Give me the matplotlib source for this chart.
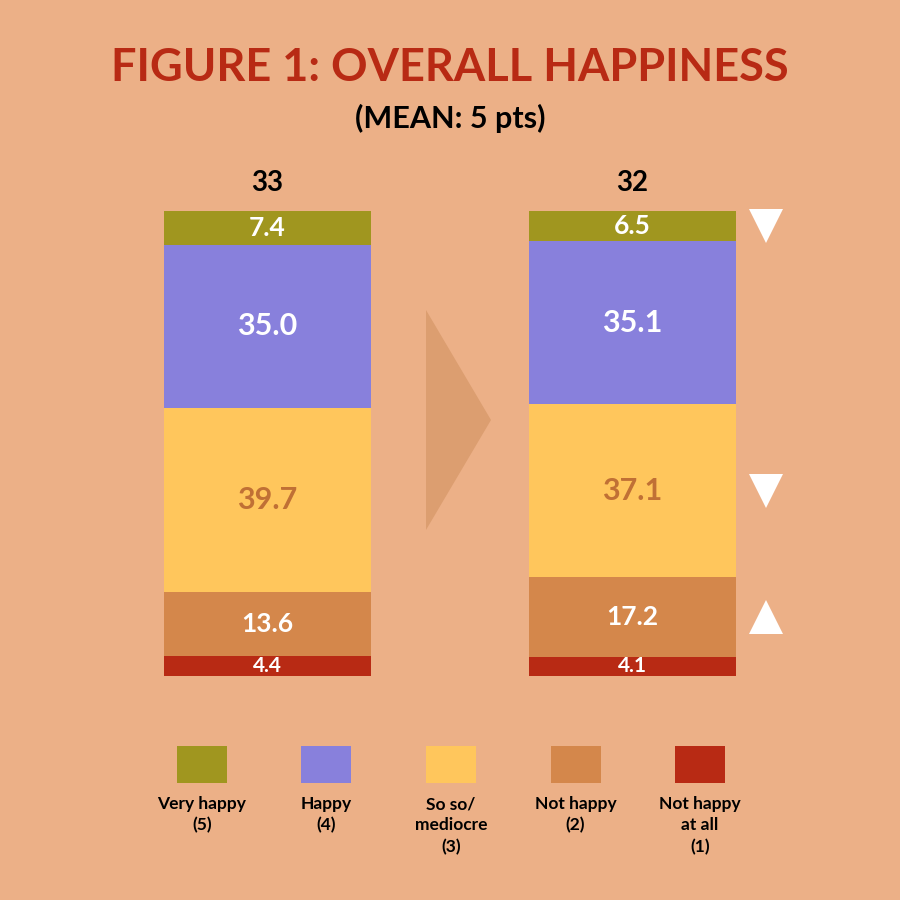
import matplotlib
matplotlib.use('Agg')
import matplotlib.pyplot as plt
from matplotlib.patches import Polygon, Rectangle

plt.rcParams['font.family'] = ['Lato', 'DejaVu Sans']

# data
categories = ['Not happy\nat all\n(1)', 'Not happy\n(2)', 'So so/\nmediocre\n(3)', 'Happy\n(4)', 'Very happy\n(5)']
left_values = [4.4, 13.6, 39.7, 35.0, 7.4]
right_values = [4.1, 17.2, 37.1, 35.1, 6.5]
totals = ['33', '32']
changes = ['', 'up', 'down', '', 'down']

colors = ['#B82A14', '#D4874B', '#FFC65C', '#8880DC', '#A0961F']
label_colors = ['white', 'white', '#C07035', 'white', 'white']
bg = '#ECB087'

fig = plt.figure(figsize=(9, 9), dpi=100)
fig.patch.set_facecolor(bg)
ax = fig.add_axes([0, 0, 1, 1])
ax.set_facecolor(bg)
ax.axis('off')

px = 4.65  # pixels per percent point
ax.set_xlim(-267.5 / 365, (900 - 267.5) / 365)
ax.set_ylim(-224 / px, 676 / px)

width = 207 / 365
positions = [0, 1]

def label_size(v):
    if v < 5:
        return 15
    if v > 30:
        return 22
    return 19

for pos, vals, tot in zip(positions, [left_values, right_values], totals):
    bottom = 0
    for v, c, lc in zip(vals, colors, label_colors):
        ax.bar(pos, v, width=width, bottom=bottom, color=c, edgecolor='none')
        ax.text(pos, bottom + v / 2, f'{v:.1f}', ha='center', va='center',
                color=lc, fontsize=label_size(v), fontweight='bold')
        bottom += v
    ax.text(pos, (676 - 183) / px, tot, ha='center', va='center',
            fontsize=20, fontweight='bold', color='black')

# change markers next to the right bar
bottom = 0
mx = positions[1] + width / 2 + 30 / 365
for v, ch in zip(right_values, changes):
    if ch:
        ax.plot(mx, bottom + v / 2, marker='v' if ch == 'down' else '^',
                markersize=24, color='white', markeredgewidth=0)
    bottom += v

# arrow between bars
ax0 = positions[0] + width / 2 + 55 / 365
ax1 = ax0 + 65 / 365
mid = (676 - 420) / px
half = 110 / px
ax.add_patch(Polygon([[ax0, mid + half], [ax1, mid], [ax0, mid - half]],
                     closed=True, facecolor='#DC9E70', edgecolor='none'))

# legend
lx0, ldx = 202, 124.5
for i, (cat, c) in enumerate(zip(categories[::-1], colors[::-1])):
    cx = (lx0 + i * ldx) / 900
    fig.patches.append(Rectangle((cx - 25 / 900, 1 - 783 / 900), 50 / 900, 37 / 900,
                                 transform=fig.transFigure, facecolor=c, edgecolor='none'))
    fig.text(cx, 1 - 796 / 900, cat, ha='center', va='top', fontsize=12.5,
             fontweight='bold', linespacing=1.4, color='black')

fig.text(0.5, 1 - 68 / 900, 'FIGURE 1: OVERALL HAPPINESS', ha='center', va='center',
         fontsize=32.5, fontweight='bold', color='#B82A14')
fig.text(0.5, 1 - 118 / 900, '(MEAN: 5 pts)', ha='center', va='center',
         fontsize=22, fontweight='bold', color='black')

fig.savefig('out.png', dpi=100, facecolor=bg)
